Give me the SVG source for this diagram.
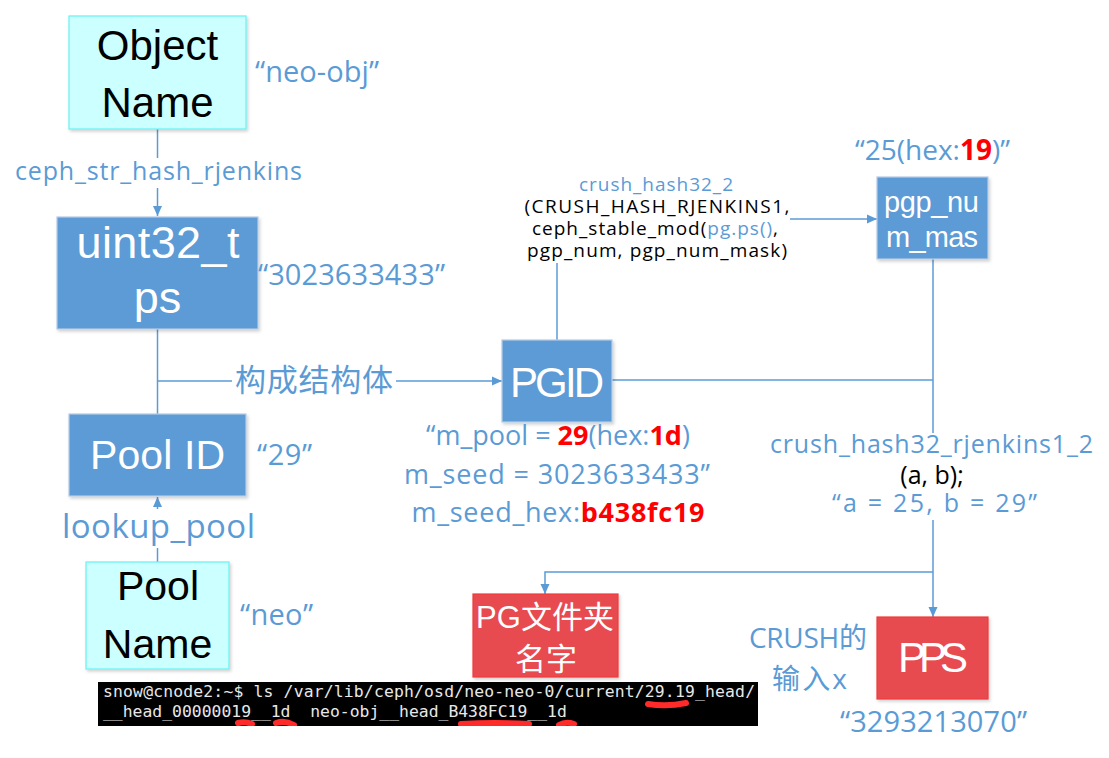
<svg xmlns="http://www.w3.org/2000/svg" width="1109" height="758" viewBox="0 0 1109 758">
<style>
.lbl{font-family:'Open Sans','Noto Sans CJK SC',sans-serif;fill:#5B9BD5}
.blk{font-family:'Open Sans','Noto Sans CJK SC',sans-serif;fill:#000}
.red{fill:#FF0000;font-weight:bold}
.bt{font-family:'Liberation Sans','Noto Sans CJK SC',sans-serif;fill:#fff;text-anchor:middle}
.ct{font-family:'Liberation Sans',sans-serif;fill:#000;text-anchor:middle}
.cyan{fill:#CCFFFF;stroke:#66F2F2;stroke-width:1.2}
.blue{fill:#5B9BD5;stroke:#B7CBE3;stroke-width:1.2}
.redbox{fill:#E84C50;stroke:#F23A3A;stroke-width:1.2}
.con{stroke:#5B9BD5;stroke-width:1.5;fill:none}
.mark{stroke:#FF2A2A;stroke-width:6;stroke-linecap:round;fill:none}
.mid{text-anchor:middle}
</style>
<defs>
<marker id="ah" markerUnits="userSpaceOnUse" markerWidth="10" markerHeight="10" refX="10" refY="5" orient="auto">
<path d="M0,0.5 L10,5 L0,9.5 z" fill="#5B9BD5"/>
</marker>
<filter id="sh" x="-10%" y="-10%" width="125%" height="125%">
<feDropShadow dx="1.5" dy="2" stdDeviation="1.5" flood-color="#000" flood-opacity="0.18"/>
</filter>
<clipPath id="term"><rect x="98" y="682" width="660" height="44"/></clipPath>
</defs>
<rect width="1109" height="758" fill="#fff"/>

<g id="connectors">
<line class="con" x1="157.5" y1="129" x2="157.5" y2="158"/>
<line class="con" x1="157.5" y1="188" x2="157.5" y2="216" marker-end="url(#ah)"/>
<line class="con" x1="157.5" y1="329" x2="157.5" y2="414"/>
<line class="con" x1="157.5" y1="381" x2="232" y2="381"/>
<line class="con" x1="396" y1="381" x2="502" y2="381" marker-end="url(#ah)"/>
<line class="con" x1="157.5" y1="562" x2="157.5" y2="548"/>
<line class="con" x1="157.5" y1="509" x2="157.5" y2="497" marker-end="url(#ah)"/>
<line class="con" x1="557" y1="340" x2="557" y2="263"/>
<line class="con" x1="790" y1="219" x2="877" y2="219" marker-end="url(#ah)"/>
<line class="con" x1="933" y1="259" x2="933" y2="433"/>
<line class="con" x1="612" y1="380" x2="933" y2="380"/>
<line class="con" x1="933" y1="520" x2="933" y2="617" marker-end="url(#ah)"/>
<polyline class="con" points="933,572 545,572 545,594" marker-end="url(#ah)"/>
</g>

<g id="edge-labels">
<text class="lbl mid" x="158.5" y="180" font-size="25" textLength="287">ceph_str_hash_rjenkins</text>
<text class="lbl" x="235" y="391" font-size="31" textLength="158">构成结构体</text>
<text class="lbl mid" x="158.5" y="538" font-size="33" textLength="193">lookup_pool</text>
<text class="lbl mid" x="656" y="191" font-size="19" textLength="154">crush_hash32_2</text>
<text class="blk mid" x="657" y="213" font-size="19" textLength="265">(CRUSH_HASH_RJENKINS1,</text>
<text class="blk mid" x="655" y="235" font-size="19" textLength="246">ceph_stable_mod(<tspan fill="#5B9BD5">pg.ps()</tspan>,</text>
<text class="blk mid" x="657" y="257" font-size="19" textLength="260">pgp_num, pgp_num_mask)</text>
<text class="lbl mid" x="931.5" y="453" font-size="25" textLength="323">crush_hash32_rjenkins1_2</text>
<text class="blk mid" x="932" y="484" font-size="25">(a, b);</text>
<text class="lbl mid" x="934.5" y="512" font-size="25" textLength="205">“a = 25, b = 29”</text>
</g>

<g id="object-name">
<rect class="cyan" x="69" y="16" width="177" height="113" filter="url(#sh)"/>
<text class="ct" x="157.5" y="60" font-size="42">Object</text>
<text class="ct" x="157.5" y="117" font-size="42">Name</text>
<text class="lbl" x="255" y="82" font-size="29" textLength="124">“neo-obj”</text>
</g>

<g id="uint32-ps">
<rect class="blue" x="57" y="217" width="201" height="112" filter="url(#sh)"/>
<text class="bt" x="158" y="258" font-size="45" textLength="163">uint32_t</text>
<text class="bt" x="157.5" y="313" font-size="45">ps</text>
<text class="lbl" x="258" y="285" font-size="29" textLength="187">“3023633433”</text>
</g>

<g id="pool-id">
<rect class="blue" x="69" y="414" width="177" height="82" filter="url(#sh)"/>
<text class="bt" x="157.5" y="469" font-size="41" textLength="135">Pool ID</text>
<text class="lbl" x="257" y="465" font-size="29" textLength="55">“29”</text>
</g>

<g id="pool-name">
<rect class="cyan" x="86" y="562" width="143" height="107" filter="url(#sh)"/>
<text class="ct" x="158" y="600" font-size="41">Pool</text>
<text class="ct" x="157.5" y="658" font-size="41">Name</text>
<text class="lbl" x="240" y="625" font-size="29" textLength="73">“neo”</text>
</g>

<g id="pgid">
<rect class="blue" x="502" y="340" width="110" height="82" filter="url(#sh)"/>
<text class="bt" x="557" y="397" font-size="42" textLength="94">PGID</text>
<text class="lbl mid" x="558" y="445" font-size="27">“m_pool = <tspan class="red">29</tspan>(hex:<tspan class="red">1d</tspan>)</text>
<text class="lbl mid" x="557" y="484" font-size="27" textLength="306">m_seed = 3023633433”</text>
<text class="lbl mid" x="558" y="522" font-size="27" textLength="293">m_seed_hex:<tspan class="red">b438fc19</tspan></text>
</g>

<g id="pgp-num-mask">
<rect class="blue" x="877" y="177" width="111" height="82" filter="url(#sh)"/>
<text class="bt" x="931.5" y="212" font-size="29" textLength="95">pgp_nu</text>
<text class="bt" x="932" y="247" font-size="29" textLength="92">m_mas</text>
<text class="lbl mid" x="932.5" y="160" font-size="28">“25(hex:<tspan class="red">19</tspan>)”</text>
</g>

<g id="pg-folder">
<rect class="redbox" x="473" y="594" width="145" height="83" filter="url(#sh)"/>
<text class="bt" x="545" y="628" font-size="31">PG文件夹</text>
<text class="bt" x="546" y="670" font-size="31">名字</text>
</g>

<g id="pps">
<rect class="redbox" x="877" y="617" width="111" height="82" filter="url(#sh)"/>
<text class="bt" x="933" y="672" font-size="42" textLength="70">PPS</text>
<text class="lbl mid" x="808" y="648" font-size="28" textLength="118">CRUSH的</text>
<text class="lbl mid" x="809.5" y="689" font-size="28" textLength="75">输入x</text>
<text class="lbl mid" x="933.5" y="732" font-size="29" textLength="187">“3293213070”</text>
</g>

<g id="terminal">
<rect x="98" y="682" width="660" height="44" fill="#000"/>
<g clip-path="url(#term)">
<text x="103" y="697" font-family="'DejaVu Sans Mono',monospace" font-size="16.4" fill="#E8E8E8" textLength="652" xml:space="preserve">snow@cnode2:~$ ls /var/lib/ceph/osd/neo-neo-0/current/29.19_head/</text>
<text x="103" y="717" font-family="'DejaVu Sans Mono',monospace" font-size="16.4" fill="#E8E8E8" xml:space="preserve">__head_00000019__1d  neo-obj__head_B438FC19__1d</text>
<path class="mark" d="M648,704 Q667,707 686,703"/>
<path class="mark" d="M238,723 Q245,721 252,724"/>
<path class="mark" d="M276,723 Q285,720 294,725"/>
<path class="mark" d="M461,724 Q495,722 529,724"/>
<path class="mark" d="M559,725 Q566,721 574,724"/>
</g>
</g>
</svg>
